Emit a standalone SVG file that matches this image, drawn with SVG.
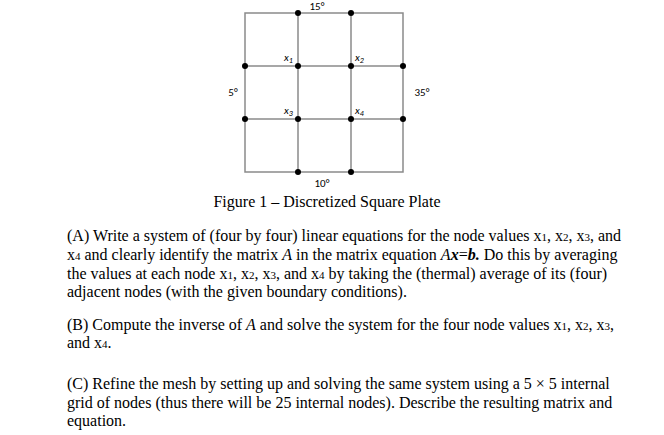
<svg xmlns="http://www.w3.org/2000/svg" width="664" height="435" viewBox="0 0 664 435">
<style>
.g{stroke:#8a8a8a;stroke-width:1.5;fill:none}
.d{fill:#000}
.s{font-family:Calibri,"Liberation Sans",sans-serif;font-size:11px;fill:#000}
.t{font-family:"Liberation Serif",serif;font-size:16px;fill:#000}
.sub{font-size:11px}
</style>
<rect width="664" height="435" fill="#fff"/>
<g id="connectors">
<rect class="g" x="245" y="13" width="158" height="159"/>
<line class="g" x1="298" y1="13" x2="298" y2="172"/>
<line class="g" x1="351" y1="13" x2="351" y2="172"/>
<line class="g" x1="245" y1="66" x2="403" y2="66"/>
<line class="g" x1="245" y1="119" x2="403" y2="119"/>
</g>
<g id="nodes">
<g id="b1"><circle class="d" cx="298" cy="13" r="3"/></g>
<g id="b2"><circle class="d" cx="351" cy="13" r="3"/></g>
<g id="b3"><circle class="d" cx="245" cy="66" r="3"/></g>
<g id="b4"><circle class="d" cx="403" cy="66" r="3"/></g>
<g id="b5"><circle class="d" cx="245" cy="119" r="3"/></g>
<g id="b6"><circle class="d" cx="403" cy="119" r="3"/></g>
<g id="b7"><circle class="d" cx="298" cy="172" r="3"/></g>
<g id="b8"><circle class="d" cx="351" cy="172" r="3"/></g>
<g id="x1"><circle class="d" cx="298" cy="66" r="3"/><text class="s" x="284" y="61" font-style="italic">x<tspan font-size="8" dy="2">1</tspan></text></g>
<g id="x2"><circle class="d" cx="351" cy="66" r="3"/><text class="s" x="355" y="61" font-style="italic">x<tspan font-size="8" dy="2">2</tspan></text></g>
<g id="x3"><circle class="d" cx="298" cy="119" r="3"/><text class="s" x="284" y="114" font-style="italic">x<tspan font-size="8" dy="2">3</tspan></text></g>
<g id="x4"><circle class="d" cx="351" cy="119" r="3"/><text class="s" x="355" y="114" font-style="italic">x<tspan font-size="8" dy="2">4</tspan></text></g>
</g>
<text class="s" x="317" y="10" text-anchor="middle">15°</text>
<text class="s" x="322" y="187" text-anchor="middle">10°</text>
<text class="s" x="233" y="96" text-anchor="middle">5°</text>
<text class="s" x="422" y="96" text-anchor="middle">35°</text>
<text class="t" x="327" y="207" text-anchor="middle">Figure 1 – Discretized Square Plate</text>
<text class="t" x="67" y="241">(A) Write a system of (four by four) linear equations for the node values x<tspan class="sub">1</tspan>, x<tspan class="sub">2</tspan>, x<tspan class="sub">3</tspan>, and</text>
<text class="t" x="67" y="260">x<tspan class="sub">4</tspan> and clearly identify the matrix <tspan font-style="italic">A</tspan> in the matrix equation <tspan font-style="italic">A</tspan><tspan font-weight="bold" font-style="italic">x</tspan>=<tspan font-weight="bold" font-style="italic">b.</tspan> Do this by averaging</text>
<text class="t" x="67" y="279">the values at each node x<tspan class="sub">1</tspan>, x<tspan class="sub">2</tspan>, x<tspan class="sub">3</tspan>, and x<tspan class="sub">4</tspan> by taking the (thermal) average of its (four)</text>
<text class="t" x="67" y="297">adjacent nodes (with the given boundary conditions).</text>
<text class="t" x="67" y="330">(B) Compute the inverse of <tspan font-style="italic">A</tspan> and solve the system for the four node values x<tspan class="sub">1</tspan>, x<tspan class="sub">2</tspan>, x<tspan class="sub">3</tspan>,</text>
<text class="t" x="67" y="348">and x<tspan class="sub">4</tspan>.</text>
<text class="t" x="67" y="389">(C) Refine the mesh by setting up and solving the same system using a 5 × 5 internal</text>
<text class="t" x="67" y="408">grid of nodes (thus there will be 25 internal nodes). Describe the resulting matrix and</text>
<text class="t" x="67" y="426">equation.</text>
</svg>
